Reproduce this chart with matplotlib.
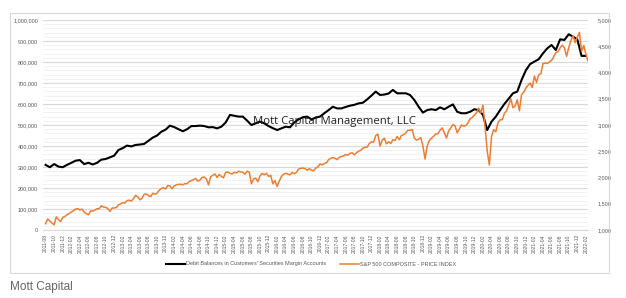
import numpy as np
import pandas as pd
import matplotlib
matplotlib.use("Agg")
import matplotlib.pyplot as plt
from matplotlib.patches import Rectangle
from matplotlib.ticker import MultipleLocator, FuncFormatter

# monthly axis, 2011-08 .. 2022-02
months = pd.date_range("2011-08-01", periods=127, freq="MS").strftime("%Y-%m").tolist()

# Debit balances in customers' securities margin accounts ($ millions), monthly
margin_debt = [
    310, 299, 314, 302, 299,
    310, 320, 330, 333, 314, 320, 312, 320, 335, 338, 346, 354,
    381, 390, 402, 398, 405, 407, 410, 425, 440, 450, 468, 478,
    497, 490, 480, 470, 480, 495, 495, 497, 495, 489, 490, 484,
    492, 512, 548, 544, 540, 540, 521, 500, 508, 516, 508, 495,
    485, 476, 484, 492, 489, 512, 527, 537, 540, 527, 535, 540,
    556, 571, 587, 579, 579, 586, 592, 596, 603, 606, 622, 640,
    659, 643, 645, 650, 667, 651, 651, 651, 643, 619, 587, 559,
    571, 575, 571, 584, 575, 587, 598, 563, 556, 556, 563, 575,
    571, 548, 476, 516, 540, 571, 600, 625, 651, 659, 714, 760,
    790, 802, 813, 841, 865, 881, 857, 908, 905, 932, 921, 908,
    829, 829,
]
margin_debt = [v * 1000 for v in margin_debt]

# S&P 500 composite price index, two readings per month (mid, end)
sp500 = [
    1120, 1210, 1170, 1131, 1100, 1250, 1200, 1160, 1240, 1258,
    1290, 1312, 1345, 1366, 1400, 1408, 1380, 1398, 1340, 1310, 1290, 1362,
    1360, 1379, 1405, 1406, 1460, 1440, 1430, 1412, 1355, 1416, 1420, 1426,
    1480, 1498, 1520, 1515, 1560, 1569, 1550, 1597, 1660, 1631, 1575, 1606,
    1680, 1686, 1660, 1633, 1700, 1682, 1700, 1757, 1790, 1806, 1780, 1848,
    1840, 1783, 1840, 1859, 1870, 1872, 1860, 1884, 1880, 1924, 1940, 1960,
    1980, 1931, 1950, 2003, 2010, 1972, 1860, 2018, 2040, 2068, 2000, 2059,
    2020, 1995, 2100, 2105, 2080, 2068, 2100, 2086, 2120, 2107, 2100, 2063,
    2120, 2104, 1880, 1972, 1990, 1920, 2030, 2079, 2050, 2080, 2020, 2044,
    1880, 1940, 1830, 1932, 2020, 2060, 2080, 2065, 2050, 2097, 2070, 2099,
    2160, 2174, 2180, 2171, 2140, 2168, 2140, 2126, 2180, 2199, 2260, 2239,
    2270, 2279, 2340, 2364, 2380, 2363, 2340, 2384, 2400, 2412, 2440, 2423,
    2460, 2470, 2430, 2471, 2500, 2519, 2560, 2575, 2580, 2648, 2680, 2674,
    2800, 2824, 2600, 2714, 2750, 2641, 2680, 2648, 2720, 2705, 2780, 2718,
    2800, 2816, 2850, 2902, 2900, 2914, 2750, 2711, 2730, 2760, 2600, 2351,
    2600, 2704, 2750, 2784, 2830, 2834, 2900, 2946, 2850, 2752, 2890, 2942,
    3010, 2980, 2850, 2926, 3000, 2977, 2990, 3038, 3120, 3141, 3190, 3231,
    3320, 3226, 3380, 2954, 2500, 2237, 2780, 2912, 2870, 3044, 3100, 3100,
    3220, 3271, 3380, 3500, 3330, 3363, 3480, 3270, 3580, 3622, 3700, 3756,
    3800, 3714, 3930, 3811, 3960, 3973, 4170, 4181, 4170, 4204, 4230, 4298,
    4380, 4395, 4470, 4523, 4470, 4308, 4470, 4605, 4700, 4567, 4670, 4766,
    4400, 4515, 4350, 4220,
]

W, H = 626, 298
fig = plt.figure(figsize=(W / 100, H / 100), dpi=100)
plt.rcParams['font.family'] = ['Liberation Sans', 'DejaVu Sans']
tick_col = '#595959'

# chart frame
fig.patches.append(Rectangle((10 / W, 1 - 273 / H), 599 / W, 260 / H,
                             transform=fig.transFigure, fill=False,
                             edgecolor='#d9d9d9', linewidth=0.8))

ax = fig.add_axes([43 / W, 1 - 230 / H, (588 - 43) / W, 210 / H])
ax2 = ax.twinx()

x_m = np.arange(len(margin_debt))
x_sp = np.arange(len(sp500)) / 2.0

ax.plot(x_m, margin_debt, color='black', linewidth=1.5,
        label="Debit Balances in Customers' Securities Margin Accounts")
ax2.plot(x_sp, sp500, color='#ED7D31', linewidth=1.1,
         label='S&P 500 COMPOSITE - PRICE INDEX')

ax.set_xlim(-0.6, len(months) - 0.5)
ax.set_ylim(0, 1000000)
ax2.set_ylim(1000, 5000)

ax.yaxis.set_major_locator(MultipleLocator(100000))
ax.yaxis.set_minor_locator(MultipleLocator(20000))
ax.yaxis.set_major_formatter(FuncFormatter(lambda v, p: f"{int(v):,}"))
ax2.yaxis.set_major_locator(MultipleLocator(500))
ax2.yaxis.set_major_formatter(FuncFormatter(lambda v, p: f"{int(v):,}"))

ax.grid(axis='y', which='major', color='#d9d9d9', linewidth=0.8)
ax.grid(axis='y', which='minor', color='#f0f0f0', linewidth=0.6)
ax.set_axisbelow(True)

ax.set_xticks(x_m[::2])
ax.set_xticklabels(months[::2], rotation=90, fontsize=3.6, color=tick_col)
ax.tick_params(axis='x', length=0, pad=3)
ax.tick_params(axis='y', which='both', length=0, labelsize=4, labelcolor=tick_col, pad=3.6)
ax2.tick_params(axis='y', length=0, labelsize=4, labelcolor=tick_col, pad=7)

for a in (ax, ax2):
    for s in a.spines.values():
        s.set_visible(False)
ax.spines['bottom'].set_visible(True)
ax.spines['bottom'].set_color('#d9d9d9')
ax.spines['bottom'].set_linewidth(0.8)

ax.text(0.535, 0.515, 'Mott Capital Management, LLC', transform=ax.transAxes,
        ha='center', va='center', fontsize=8.2, family='Open Sans', color='#222222')

h1, l1 = ax.get_legend_handles_labels()
h2, l2 = ax2.get_legend_handles_labels()
fig.legend(h1 + h2, l1 + l2, loc='center', ncol=2, frameon=False,
           bbox_to_anchor=(311 / W, 1 - 264 / H), fontsize=4,
           labelcolor=tick_col, handlelength=3.5, handletextpad=0.1,
           columnspacing=2.5)

fig.text(10 / W, 1 - 287 / H, 'Mott Capital', fontsize=8.5, color='#666666',
         va='center', ha='left')

fig.savefig('out.png', dpi=100, facecolor='white')
